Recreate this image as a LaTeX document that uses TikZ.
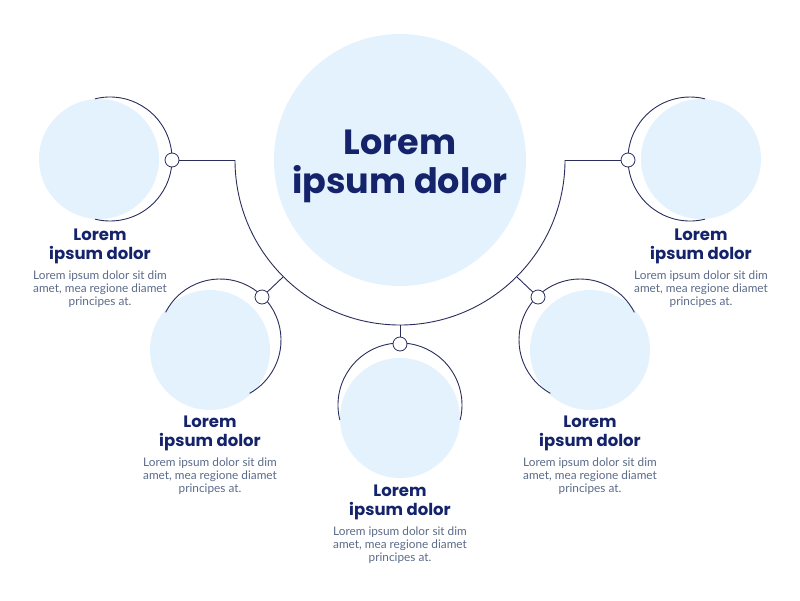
\documentclass[tikz,border=0pt]{standalone}
\usepackage{fontspec}
\setmainfont{Lato}
\newfontfamily\headfont{Poppins}
\usetikzlibrary{positioning}
\definecolor{navy}{HTML}{15236B}
\definecolor{lineblue}{HTML}{2A2D5C}
\definecolor{paleblue}{HTML}{E3F2FD}
\definecolor{bodygray}{HTML}{5B6B8A}
\tikzset{
	disc/.style={circle, fill=paleblue, minimum size=120pt, inner sep=0pt},
	knob/.style={circle, draw=lineblue, fill=white, line width=0.8pt, minimum size=14pt, inner sep=0pt},
	ring/.style={draw=lineblue, line width=0.9pt},
	headline/.style={font=\headfont\fontsize{16.5}{19}\selectfont\bfseries, text=navy, align=center},
	bodytext/.style={font=\fontsize{11.8}{13}\selectfont, text=bodygray, align=center}
}
\begin{document}
\begin{tikzpicture}[x=1pt, y=-1pt]

\useasboundingbox (0,0) rectangle (800,600);

% centre
\node[disc, minimum size=252pt] (hub) at (400,160) {};
\node[font=\headfont\fontsize{35}{39}\selectfont\bfseries, text=navy, align=center] (hubtext) at (400,166) {Lorem\\ipsum dolor};
\draw[ring] (235,160) arc (180:0:165);
\coordinate (armL) at (235,160);
\coordinate (armR) at (565,160);

% outer discs
\node[disc] (discA) at (99,159) {};
\node[disc] (discB) at (210,350) {};
\node[disc] (discC) at (400,418) {};
\node[disc] (discD) at (590,350) {};
\node[disc] (discE) at (701,159) {};

% outline arcs
\draw[ring] (110,159) ++(256:62) arc (256:464:62);
\draw[ring] (220,340) ++(207:61) arc (207:421:61);
\draw[ring] (400,405) ++(166:62) arc (166:374:62);
\draw[ring] (580,340) ++(119:61) arc (119:333:61);
\draw[ring] (690,159) ++(76:62) arc (76:284:62);

% knobs
\node[knob] (knobA) at (172,160) {};
\node[knob] (knobB) at (262,297) {};
\node[knob] (knobC) at (400,344) {};
\node[knob] (knobD) at (538,297) {};
\node[knob] (knobE) at (628,160) {};

\coordinate (tapB) at (283,277);
\coordinate (tapC) at (400,325);
\coordinate (tapD) at (517,277);
\draw[ring] (armL) -- (knobA);
\draw[ring] (armR) -- (knobE);
\draw[ring] (tapB) -- (knobB);
\draw[ring] (tapC) -- (knobC);
\draw[ring] (tapD) -- (knobD);

% labels
\foreach \n/\x/\y in {A/100/246, B/210/433, C/400/502, D/590/433, E/701/246} {
	\node[headline] (head\n) at (\x,\y) {Lorem\\ipsum dolor};
	\node[bodytext, below=0pt of head\n] (body\n) {Lorem ipsum dolor sit dim\\amet, mea regione diamet\\principes at.};
}

\end{tikzpicture}
\end{document}
